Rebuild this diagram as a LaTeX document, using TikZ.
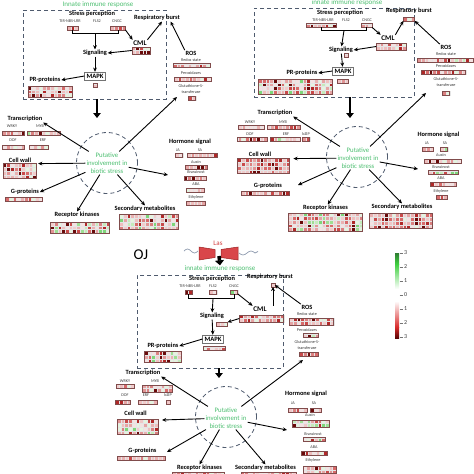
\documentclass[tikz,border=0pt]{standalone}
\usepackage{fontspec}
\setmainfont{Carlito}
\usepackage{xcolor}
\usetikzlibrary{arrows.meta,positioning}

\definecolor{immgreen}{HTML}{4CBE70}
\definecolor{boxblue}{HTML}{4F5B6E}
\definecolor{labgray}{HTML}{3A3A3A}
\definecolor{lasred}{HTML}{D23C3C}
\definecolor{bactred}{HTML}{D9464A}
\definecolor{bactdark}{HTML}{9A2020}
\definecolor{wavecol}{HTML}{8E9AAE}
\definecolor{lgdkgreen}{HTML}{2E7D32}
\definecolor{lggreen}{HTML}{3FCF3F}
\definecolor{lgred}{HTML}{D92B2B}
\definecolor{lgdkred}{HTML}{5A0505}
% heatmap palette: greens first, then pinks and reds
\definecolor{hc0}{HTML}{9EDF93}
\definecolor{hc1}{HTML}{C4EBBB}
\definecolor{hc2}{HTML}{7ED67A}
\definecolor{hc3}{HTML}{E4F4DF}
\definecolor{hc4}{HTML}{F4E2E2}
\definecolor{hc5}{HTML}{F0C6C6}
\definecolor{hc6}{HTML}{EAB2B2}
\definecolor{hc7}{HTML}{E6A4A4}
\definecolor{hc8}{HTML}{EFBEBE}
\definecolor{hc9}{HTML}{E29494}
\definecolor{hc10}{HTML}{DB8080}
\definecolor{hc11}{HTML}{F2CCCC}
\definecolor{hc12}{HTML}{D86A6A}
\definecolor{hc13}{HTML}{C94A4A}
\definecolor{hc14}{HTML}{B02828}
\definecolor{hc15}{HTML}{6A0A0A}

% heatmap strip: [lowest palette index]{name}{placement}{cols}{rows}
\newcommand{\heat}[5][3]{%
  \node[hmap, minimum width=#4*3.7pt, minimum height=#5*3.7pt] (#2) #3 {};
  \foreach \i in {1,...,#4}{\foreach \j in {1,...,#5}{%
    \pgfmathrandominteger{\k}{#1}{15}%
    \filldraw[fill=hc\k, draw=white!90!black, line width=0.25pt]
      ([xshift={(\i-1)*3.7pt}, yshift={-(\j-1)*3.7pt}]#2.north west) rectangle ++(3.7pt,-3.7pt);
  }}%
  \draw[hmedge] (#2.north west) rectangle (#2.south east);
}

\begin{document}
\begin{tikzpicture}[
  x=1pt, y=-1pt,
  lbl/.style={font=\fontsize{6.4}{7}\selectfont\bfseries, inner sep=0.6pt},
  cmllbl/.style={font=\fontsize{7.2}{8}\selectfont\bfseries, inner sep=0.6pt},
  sml/.style={font=\fontsize{4.2}{6}\selectfont, text=labgray, inner sep=0.4pt, align=center},
  imm/.style={font=\fontsize{7}{8}\selectfont, text=immgreen, inner sep=0.5pt},
  grn/.style={font=\fontsize{6.8}{8}\selectfont, text=immgreen, align=center, inner sep=1pt},
  kbox/.style={font=\fontsize{6.6}{7}\selectfont\bfseries, draw=black!55, line width=0.6pt, inner sep=1.8pt, fill=white},
  dbox/.style={draw=boxblue, dash pattern=on 4pt off 3pt, line width=0.9pt, inner sep=0pt},
  dring/.style={circle, draw=boxblue, dash pattern=on 4pt off 3pt, line width=0.8pt, minimum size=61pt, inner sep=0pt},
  hmap/.style={inner sep=0pt, outer sep=0pt},
  hmedge/.style={draw=black!50!red!40!gray, line width=0.45pt},
  arr/.style={-{Stealth[length=4.2pt,width=3.8pt]}, line width=0.9pt},
  bigarr/.style={-{Triangle[length=5pt,width=7.5pt]}, line width=2.2pt},
  bactarr/.style={-{Triangle[length=5pt,width=9pt]}, line width=3.5pt},
  brk/.style={line width=0.8pt},
  leg/.style={font=\fontsize{6}{7}\selectfont, text=labgray, inner sep=0.5pt}
]
\useasboundingbox (0,0) rectangle (474,474);
\clip (0,0) rectangle (474,474);
\pgfmathsetseed{7}

%% top left panel
\node[imm] (imm1) at (98,5) {Innate immune response};
\node[dbox, minimum width=143pt, minimum height=89pt] (box1) at (94.5,54.5) {};
\node[lbl] (sp1) at (92,14) {Stress perception};
\node[sml] (tir1) at (70,21) {TIR-NBS-LRR};
\node[sml] (fls1) at (97,21) {FLS2};
\node[sml] (cngc1) at (117,21) {CNGC};
\heat{tirh1}{at (72.5,28)}{3}{1}
\heat{cngch1}{at (118,28)}{4}{1}
\draw[brk] (tirh1.south) -- ++(0,-3.5pt) -| (cngch1.south);
\coordinate (br1) at (95,33.4);
\node[lbl] (sig1) at (95,53) {Signaling};
\draw[arr] (br1) -- (sig1);
\node[lbl] (resp1) at (157,18) {Respiratory burst};
\node[cmllbl] (cml1) at (140,43) {CML};
\heat{cmlh1}{at (141,50.5)}{5}{2}
\draw[arr] (cngch1.south east) -- (cml1.north west);
\draw[arr] (cml1.north east) -- ([xshift=5pt]resp1.south);
\draw[arr] (cmlh1.west) -- (sig1.east);
\node[kbox] (mapk1) at (95,76) {MAPK};
\draw[arr] (sig1) -- (mapk1);
\heat{mapkh1}{at (95,85.5)}{1}{1}
\node[lbl] (pr1) at (45,80) {PR-proteins};
\draw[arr] (mapk1.west) -- (pr1.east);
\heat{prh1}{at (50,91.5)}{12}{3}
\node[lbl] (ros1) at (191,53) {ROS};
\node[sml] (redox1) at (191,60) {Redox state};
\heat{redoxh1}{at (191.5,65.5)}{10}{1}
\node[sml] (perox1) at (191,73) {Peroxidases};
\heat{peroxh1}{at (192.5,79)}{10}{1}
\node[sml] (glut1) at (191,89.5) {Glutathione-S-\\transferase};
\heat{gluth1}{at (192,98)}{2}{1}
\draw[arr] (ros1.north west) -- ([xshift=-10pt]resp1.south east);
\coordinate (d1) at (97,118);
\draw[bigarr] (box1.south -| d1) -- (d1);
\node[dring] (pc1) at (107,163) {};
\node[grn] (pt1) at (107,163) {Putative\\involvement in\\biotic stress};
\node[lbl] (tr1) at (25,119) {Transcription};
\node[sml] (wrky1) at (12,126) {WRKY};
\heat{wrkyh1}{at (13.5,133)}{6}{1}
\node[sml] (myb1) at (40,126) {MYB};
\heat[0]{mybh1}{at (43.5,133)}{9}{1}
\node[sml] (dof1) at (13,140) {DOF};
\heat{dofh1}{at (13.5,147)}{6}{1}
\node[sml] (erf1) at (43,140) {ERF};
\heat{erfh1}{at (38.5,147)}{5}{1}
\node[lbl] (cw1) at (20,160) {Cell wall};
\heat{cwh1}{at (19.5,171)}{9}{4}
\node[lbl] (gp1) at (25,192) {G-proteins};
\heat{gph1}{at (24,199)}{10}{1}
\node[lbl] (rk1) at (77,215) {Receptor kinases};
\heat[0]{rkh1}{at (80,227.5)}{16}{3}
\node[lbl] (sm1) at (145,209) {Secondary metabolites};
\heat[1]{smh1}{at (149,222)}{16}{4}
\node[lbl] (hs1) at (190,142) {Hormone signal};
\node[sml] (ja1) at (178,150) {JA};
\node[sml] (sa1) at (200,150) {SA};
\heat{jah1}{at (179,155)}{2}{1}
\heat{sah1}{at (202,155)}{8}{1}
\node[sml] (aux1) at (196,162) {Auxin};
\heat{auxh1}{at (196.5,167)}{6}{1}
\node[sml] (bra1) at (196,172.5) {Brassinost};
\heat[0]{brah1}{at (195,178)}{6}{1}
\node[sml] (aba1) at (196,184.5) {ABA};
\heat{abah1}{at (195,190)}{5}{1}
\node[sml] (eth1) at (196,197) {Ethylene};
\heat{ethh1}{at (195.5,203)}{5}{1}
\coordinate (hsin1) at (168,175);
\coordinate (rosin1) at (177,97);
\draw[arr] (pt1) -- (tr1.south east);
\draw[arr] (pt1) -- ([xshift=2pt]cwh1.north east);
\draw[arr] (pt1) -- (gp1.east);
\draw[arr] (pt1) -- (rk1.north);
\draw[arr] (pt1) -- (sm1.north);
\draw[arr] (pt1) -- (hsin1);
\draw[arr] (pt1) -- (rosin1);

%% top right panel
\node[imm] (imm2) at (347,3) {innate immune response};
\node[dbox, minimum width=160pt, minimum height=89pt] (box2) at (334,52.5) {};
\node[lbl] (sp2) at (340,13) {Stress perception};
\node[sml] (tir2) at (323,20) {TIR-NBS-LRR};
\node[sml] (fls2) at (346,20) {FLS2};
\node[sml] (cngc2) at (367,20) {CNGC};
\heat{tirh2}{at (321,25.5)}{8}{1}
\heat{cngch2}{at (366.5,25.5)}{3}{1}
\draw[brk] (tirh2.south) -- ++(0,-3pt) -| (cngch2.south);
\coordinate (br2) at (344,30.4);
\node[lbl] (sig2) at (341,50) {Signaling};
\draw[arr] (br2) -- (sig2);
\node[lbl] (resp2) at (409,11) {Respiratory burst};
\heat{resph2}{at (409,19)}{3}{1}
\node[cmllbl] (cml2) at (388,38) {CML};
\heat{cmlh2}{at (391,46.5)}{8}{2}
\draw[arr] (cngch2.south east) -- (cml2.north west);
\draw[arr] (cml2.north east) -- (resph2.south west);
\heat{sigh2}{at (346,55.5)}{1}{1}
\draw[arr] (cmlh2.west) -- (sig2.east);
\node[kbox] (mapk2) at (343,71) {MAPK};
\draw[arr] (sig2) -- (mapk2);
\heat{mapkh2}{at (343,81)}{3}{1}
\node[lbl] (pr2) at (302,73) {PR-proteins};
\draw[arr] (mapk2.west) -- (pr2.east);
\heat[1]{prh2}{at (295.5,86.5)}{20}{4}
\node[lbl] (ros2) at (446,47) {ROS};
\node[sml] (redox2) at (446,54) {Redox state};
\heat[1]{redoxh2}{at (445,60)}{15}{1}
\node[sml] (perox2) at (446,66) {Peroxidases};
\heat{peroxh2}{at (443.5,72)}{12}{1}
\node[sml] (glut2) at (446,82.5) {Glutathione-S-\\transferase};
\heat[0]{gluth2}{at (446,93)}{2}{1}
\draw[arr] (ros2.north west) -- (resph2.south east);
\coordinate (d2) at (350,118);
\draw[bigarr] (box2.south -| d2) -- (d2);
\node[dring] (pc2) at (357,157) {};
\node[grn] (pt2) at (358,158) {Putative\\involvement in\\biotic stress};
\node[lbl] (tr2) at (275,113) {Transcription};
\node[sml] (wrky2) at (250,122) {WRKY};
\heat{wrkyh2}{at (251,127)}{7}{1}
\node[sml] (myb2) at (283,122) {MYB};
\heat{mybh2}{at (283.5,127)}{9}{1}
\node[sml] (dof2) at (250,134) {DOF};
\heat{dofh2}{at (252.5,139)}{8}{1}
\node[sml] (erf2) at (286,134) {ERF};
\heat[0]{erfh2}{at (285,139)}{8}{1}
\node[sml] (bzip2) at (306,134) {bZIP};
\heat{bziph2}{at (306,139)}{2}{1}
\node[lbl] (cw2) at (260,154) {Cell wall};
\heat[5]{cwh2}{at (263.5,166)}{14}{4}
\node[lbl] (gp2) at (268,186) {G-proteins};
\heat{gph2}{at (265,193)}{13}{1}
\node[lbl] (rk2) at (325.5,208) {Receptor kinases};
\heat[0]{rkh2}{at (325.5,222)}{20}{5}
\node[lbl] (sm2) at (402,207) {Secondary metabolites};
\heat{smh2}{at (401,221)}{17}{4}
\node[lbl] (hs2) at (438.5,135) {Hormone signal};
\node[sml] (ja2) at (427,143) {JA};
\node[sml] (sa2) at (445,143) {SA};
\heat{jah2}{at (428,149)}{3}{1}
\heat[0]{sah2}{at (444,149)}{2}{1}
\node[sml] (aux2) at (441,155) {Auxin};
\heat{auxh2}{at (442.5,161)}{10}{1}
\node[sml] (bra2) at (441,167) {Brassinost};
\heat[0]{brah2}{at (443,172.5)}{8}{1}
\node[sml] (aba2) at (441,178.5) {ABA};
\heat{abah2}{at (443.5,184)}{7}{1}
\node[sml] (eth2) at (441,191) {Ethylene};
\heat{ethh2}{at (441.5,197)}{3}{1}
\coordinate (gpin2) at (298,185);
\coordinate (hsin2) at (418,169);
\coordinate (rosin2) at (426,93);
\draw[arr] (pt2) -- (tr2.south east);
\draw[arr] (pt2) -- ([xshift=4pt]cwh2.north east);
\draw[arr] (pt2) -- (gpin2);
\draw[arr] (pt2) -- (rk2);
\draw[arr] (pt2) -- (sm2.north);
\draw[arr] (pt2) -- (hsin2);
\draw[arr] (pt2) -- (rosin2);

%% bottom panel (OJ)
\node[font=\fontsize{15}{16}\selectfont] (oj) at (141,255) {OJ};
\node[font=\fontsize{7}{8}\selectfont, text=lasred, inner sep=0.5pt] (las) at (218,243) {Las};
\draw[wavecol, line width=0.7pt] (184,251) sin (187.5,249) cos (191,251) sin (194.5,253) cos (198,251);
\draw[wavecol, line width=0.7pt] (239,253) sin (243,255) cos (247,253) sin (251,251) cos (255,253) sin (258,251.5);
\filldraw[fill=bactred, draw=bactdark, line width=0.5pt] (199,247) -- (215,249.5) -- (215,257.5) -- (199,260) -- cycle;
\filldraw[fill=bactred, draw=bactdark, line width=0.5pt] (221,249.5) -- (238,247) -- (238,260) -- (221,257.5) -- cycle;
\node[imm] (imm3) at (220,269) {innate immune response};
\coordinate (bact) at (219,256);
\draw[bactarr] (bact) -- (imm3.north);
\node[dbox, minimum width=146pt, minimum height=93pt] (box3) at (210,321.5) {};
\node[lbl] (sp3) at (212,279) {Stress perception};
\node[sml] (tir3) at (190,286) {TIR-NBS-LRR};
\node[sml] (fls3) at (213,286) {FLS2};
\node[sml] (cngc3) at (234,286) {CNGC};
\heat{tirh3}{at (188.5,292)}{2}{1}
\heat[0]{flsh3}{at (213,292)}{2}{1}
\heat[0]{cngch3}{at (234,292)}{2}{1}
\draw[brk] (tirh3.south) -- ++(0,-5pt) -| (cngch3.south);
\coordinate (br3) at (213,298.9);
\node[lbl] (sig3) at (212,316) {Signaling};
\draw[arr] (br3) -- (sig3);
\node[lbl] (resp3) at (270,277) {Respiratory burst};
\heat{resph3}{at (273,285)}{1}{1}
\node[cmllbl] (cml3) at (260,309) {CML};
\heat{cmlh3}{at (261.5,318.5)}{12}{2}
\draw[arr] (cngch3.south east) -- (cml3.north west);
\draw[arr] (resph3 |- cml3.north) -- (resph3.south);
\heat{sigh3}{at (222,324)}{3}{1}
\draw[arr] (cmlh3.west) -- (sigh3.north east);
\node[kbox] (mapk3) at (213,339) {MAPK};
\draw[arr] (sig3) -- (mapk3);
\heat{mapkh3}{at (214,348.5)}{6}{1}
\node[lbl] (pr3) at (163,346) {PR-proteins};
\draw[arr] (mapk3.west) -- (pr3.east);
\heat[0]{prh3}{at (162.5,357)}{10}{3}
\node[lbl] (ros3) at (307,307) {ROS};
\node[sml] (redox3) at (307,314) {Redox state};
\heat{redoxh3}{at (311.5,321.5)}{12}{2}
\node[sml] (perox3) at (307,330) {Peroxidases};
\heat[0]{peroxh3}{at (311,335.5)}{4}{1}
\node[sml] (glut3) at (307,345) {Glutathione-S-\\transferase};
\heat{gluth3}{at (308.5,354)}{5}{1}
\draw[arr] (ros3.north west) -- (resph3.east);
\coordinate (d3) at (219,378);
\draw[bigarr] (box3.south -| d3) -- (d3);
\node[dring] (pc3) at (226,417) {};
\node[grn] (pt3) at (226,418) {Putative\\involvement in\\biotic stress};
\node[lbl] (tr3) at (143,373) {Transcription};
\node[sml] (wrky3) at (125,381) {WRKY};
\heat{wrkyh3}{at (125,386)}{5}{1}
\node[sml] (myb3) at (155,381) {MYB};
\heat{mybh3}{at (157,388.5)}{8}{2}
\node[sml] (dof3) at (125,395.5) {DOF};
\heat[0]{dofh3}{at (123,402)}{4}{1}
\node[sml] (erf3) at (146,395.5) {ERF};
\heat{erfh3}{at (147.5,402)}{5}{1}
\node[sml] (bzip3) at (168,395.5) {bZIP};
\heat{bziph3}{at (168,402)}{1}{1}
\node[lbl] (cw3) at (135.5,413) {Cell wall};
\heat[1]{cwh3}{at (137.5,427)}{11}{4}
\node[lbl] (gp3) at (142.5,451) {G-proteins};
\heat{gph3}{at (141.5,458)}{13}{1}
\node[lbl] (rk3) at (199.5,468) {Receptor kinases};
\heat{rkh3}{at (198.5,476)}{14}{2}
\node[lbl] (sm3) at (265.5,468) {Secondary metabolites};
\heat{smh3}{at (268.5,476)}{15}{2}
\node[lbl] (hs3) at (306,394) {Hormone signal};
\node[sml] (ja3) at (293,403) {JA};
\node[sml] (sa3) at (314,403) {SA};
\heat{jah3}{at (297.5,410)}{5}{1}
\heat[0]{sah3}{at (316,410)}{3}{1}
\node[sml] (aux3) at (310,415.5) {Auxin};
\heat[0]{auxh3}{at (310.5,423.5)}{10}{2}
\node[sml] (bra3) at (313,434) {Brassinost};
\heat[0]{brah3}{at (314,439.5)}{6}{1}
\node[sml] (aba3) at (314,447) {ABA};
\heat{abah3}{at (314,453)}{7}{1}
\node[sml] (eth3) at (313,460.5) {Ethylene};
\heat{ethh3}{at (319.5,470)}{9}{2}
\coordinate (cwin3) at (162,420);
\coordinate (gpin3) at (167,452);
\coordinate (hsin3) at (287,430);
\coordinate (rosin3) at (303,360);
\draw[arr] (pt3) -- (tr3.south east);
\draw[arr] (pt3) -- (cwin3);
\draw[arr] (pt3) -- (gpin3);
\draw[arr] (pt3) -- (rk3.north);
\draw[arr] (pt3) -- (sm3.north);
\draw[arr] (pt3) -- (hsin3);
\draw[arr] (pt3) -- (rosin3);

%% colour scale
\shade[top color=lgdkgreen, bottom color=lggreen] (395,253) rectangle (399,264);
\shade[top color=lggreen, bottom color=white] (395,264) rectangle (399,289);
\fill[white] (395,289) rectangle (399,301);
\shade[top color=white, bottom color=lgred] (395,301) rectangle (399,327);
\shade[top color=lgred, bottom color=lgdkred] (395,327) rectangle (399,338);
\foreach \v/\yy in {3/253,2/267,1/281,0/295,1/309,2/323,3/337} {
  \draw[black!55, line width=0.4pt] (399.5,\yy) -- (402.5,\yy);
  \node[leg, anchor=west] (lg\yy) at (403.5,\yy) {\v};
}
\end{tikzpicture}
\end{document}
